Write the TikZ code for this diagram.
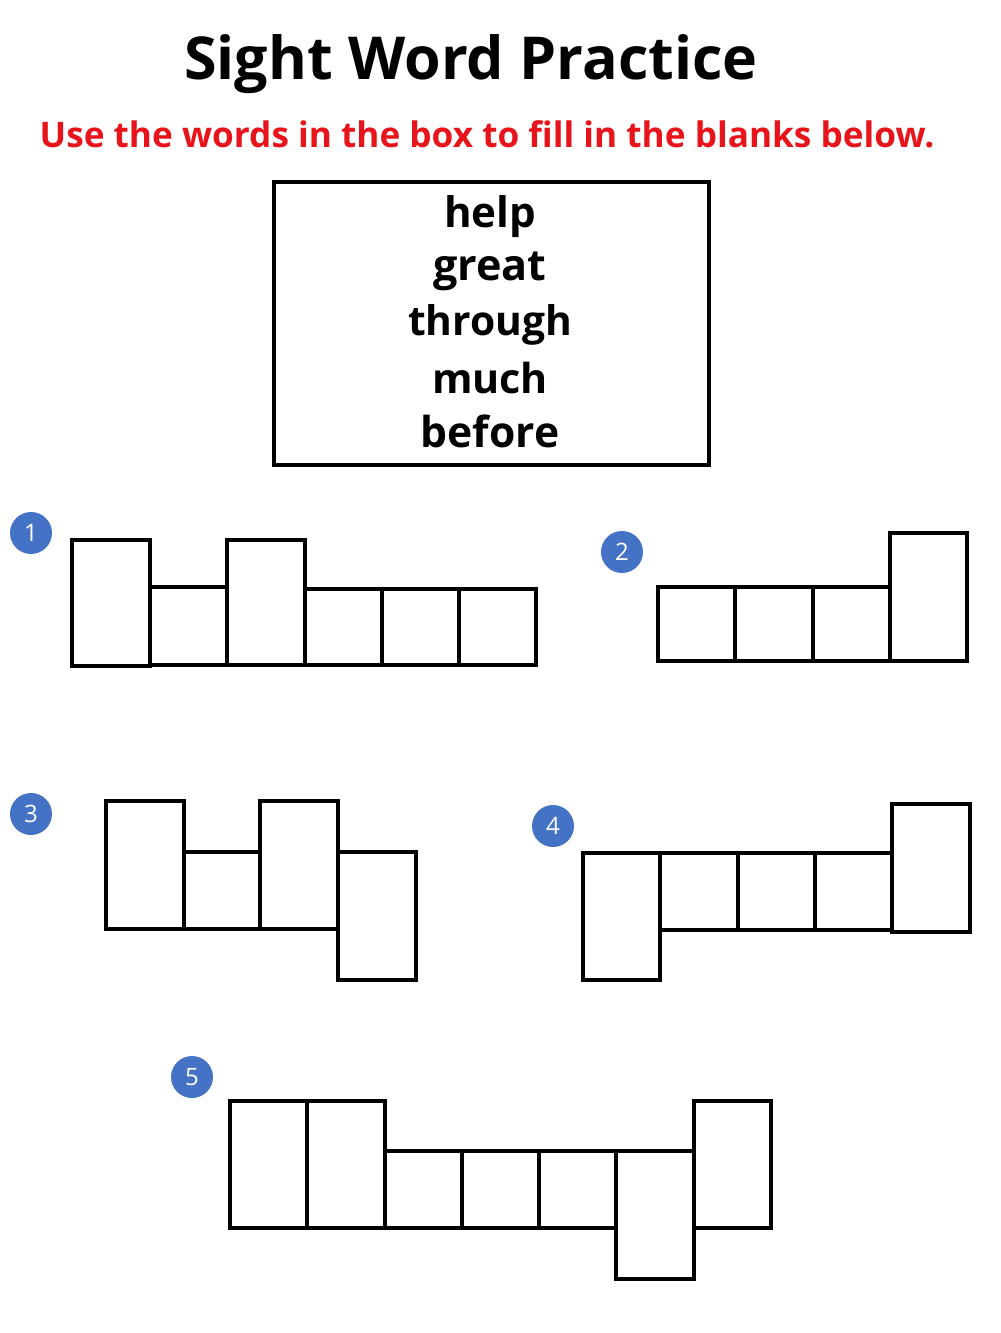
\documentclass[tikz,border=0pt]{standalone}
\usepackage{fontspec}
\usepackage{graphicx}
\setmainfont{Open Sans}
\begin{document}
\begin{tikzpicture}[x=0.75pt,y=-0.75pt,
  cell/.style={draw=black,line width=2.4pt},
  num/.style={circle,fill=numblue,text=white,minimum size=31.5pt,inner sep=0pt,font=\fontsize{18}{18}\selectfont},
  word/.style={font=\bfseries\fontsize{30}{30}\selectfont,anchor=center}]
\definecolor{numblue}{HTML}{4472C4}
\definecolor{redtxt}{HTML}{E8141C}
\useasboundingbox[fill=white] (0,0) rectangle (1000,1333);
\node (title) at (471,64) {\resizebox{430pt}{!}{\bfseries\fontsize{40}{40}\selectfont Sight Word Practice}};
\node[text=redtxt] (sub) at (487,134) {\resizebox{671pt}{!}{\bfseries\fontsize{20}{20}\selectfont Use the words in the box to fill in the blanks below.}};
\draw[cell] (274,182) rectangle (709,465);
\node[word] (w1) at (490,217) {\resizebox{69pt}{!}{\bfseries help}};
\node[word] (w2) at (490,271) {\resizebox{85pt}{!}{\bfseries great}};
\node[word] (w3) at (490,325) {\resizebox{123pt}{!}{\bfseries through}};
\node[word] (w4) at (490,378) {\resizebox{87pt}{!}{\bfseries much}};
\node[word] (w5) at (490,431) {\resizebox{104pt}{!}{\bfseries before}};
% puzzle 1
\foreach \a/\b/\c/\d in {72/540/150/666,150/587/227/665,227/540/305/665,305/589/382/665,382/589/459/665,459/589/536/665}
  \draw[cell] (\a,\b) rectangle (\c,\d);
% puzzle 2
\foreach \a/\b/\c/\d in {658/587/735/661,735/587/813/661,813/587/890/661,890/533/967/661}
  \draw[cell] (\a,\b) rectangle (\c,\d);
% puzzle 3
\foreach \a/\b/\c/\d in {106/801/184/929,184/852/260/929,260/801/338/929,338/852/416/980}
  \draw[cell] (\a,\b) rectangle (\c,\d);
% puzzle 4
\foreach \a/\b/\c/\d in {583/853/660/980,660/853/738/930,738/853/815/930,815/853/892/930,892/804/970/932}
  \draw[cell] (\a,\b) rectangle (\c,\d);
% puzzle 5
\foreach \a/\b/\c/\d in {230/1101/307/1228,307/1101/385/1228,385/1151/462/1228,462/1151/539/1228,539/1151/616/1228,616/1151/694/1279,694/1101/771/1228}
  \draw[cell] (\a,\b) rectangle (\c,\d);
\node[num] (n1) at (31,533) {1};
\node[num] (n2) at (622,552) {2};
\node[num] (n3) at (31,814) {3};
\node[num] (n4) at (553,826) {4};
\node[num] (n5) at (192,1077) {5};
\end{tikzpicture}
\end{document}
